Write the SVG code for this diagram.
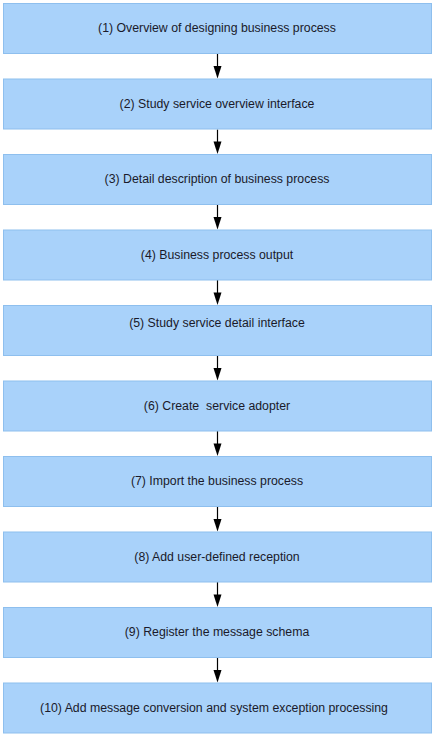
<svg xmlns="http://www.w3.org/2000/svg" width="435" height="736" viewBox="0 0 435 736">
<defs>
<style>
.box{fill:#a9d2fa;stroke:#8ebfee;stroke-width:1}
.lbl{font-family:"Liberation Sans",Arial,sans-serif;font-size:12.3px;fill:#1a1a2a;text-anchor:middle;dominant-baseline:central;white-space:pre}
.con{stroke:#000;stroke-width:1.2;fill:none}
</style>
</defs>
<rect width="435" height="736" fill="#fff"/>
<g id="connectors">
<line class="con" x1="217.5" y1="53.5" x2="217.5" y2="67"/>
<path d="M213.5,66 L221.5,66 L217.5,78.5 Z"/>
<line class="con" x1="217.5" y1="129.5" x2="217.5" y2="142"/>
<path d="M213.5,141.5 L221.5,141.5 L217.5,154 Z"/>
<line class="con" x1="217.5" y1="204.5" x2="217.5" y2="218"/>
<path d="M213.5,217 L221.5,217 L217.5,229.5 Z"/>
<line class="con" x1="217.5" y1="280" x2="217.5" y2="293"/>
<path d="M213.5,292.5 L221.5,292.5 L217.5,305 Z"/>
<line class="con" x1="217.5" y1="355.5" x2="217.5" y2="369"/>
<path d="M213.5,368 L221.5,368 L217.5,380.5 Z"/>
<line class="con" x1="217.5" y1="431" x2="217.5" y2="444"/>
<path d="M213.5,443.5 L221.5,443.5 L217.5,456 Z"/>
<line class="con" x1="217.5" y1="506.5" x2="217.5" y2="520"/>
<path d="M213.5,519 L221.5,519 L217.5,531.5 Z"/>
<line class="con" x1="217.5" y1="582" x2="217.5" y2="595"/>
<path d="M213.5,594.5 L221.5,594.5 L217.5,607 Z"/>
<line class="con" x1="217.5" y1="657.5" x2="217.5" y2="671"/>
<path d="M213.5,670 L221.5,670 L217.5,682.5 Z"/>
</g>
<g id="n1"><rect class="box" x="3.5" y="3.5" width="428" height="50"/><text class="lbl" x="217" y="28">(1) Overview of designing business process</text></g>
<g id="n2"><rect class="box" x="3.5" y="79" width="428" height="50"/><text class="lbl" x="217" y="103.5">(2) Study service overview interface</text></g>
<g id="n3"><rect class="box" x="3.5" y="154.5" width="428" height="50"/><text class="lbl" x="217" y="179">(3) Detail description of business process</text></g>
<g id="n4"><rect class="box" x="3.5" y="230" width="428" height="50"/><text class="lbl" x="217" y="254.5">(4) Business process output</text></g>
<g id="n5"><rect class="box" x="3.5" y="305.5" width="428" height="50"/><text class="lbl" x="217" y="323">(5) Study service detail interface</text></g>
<g id="n6"><rect class="box" x="3.5" y="381" width="428" height="50"/><text class="lbl" x="217" y="405.5" xml:space="preserve">(6) Create  service adopter</text></g>
<g id="n7"><rect class="box" x="3.5" y="456.5" width="428" height="50"/><text class="lbl" x="217" y="481">(7) Import the business process</text></g>
<g id="n8"><rect class="box" x="3.5" y="532" width="428" height="50"/><text class="lbl" x="217" y="556.5">(8) Add user-defined reception</text></g>
<g id="n9"><rect class="box" x="3.5" y="607.5" width="428" height="50"/><text class="lbl" x="217" y="632">(9) Register the message schema</text></g>
<g id="n10"><rect class="box" x="3.5" y="683" width="428" height="50"/><text class="lbl" x="214" y="707.5">(10) Add message conversion and system exception processing</text></g>
</svg>
